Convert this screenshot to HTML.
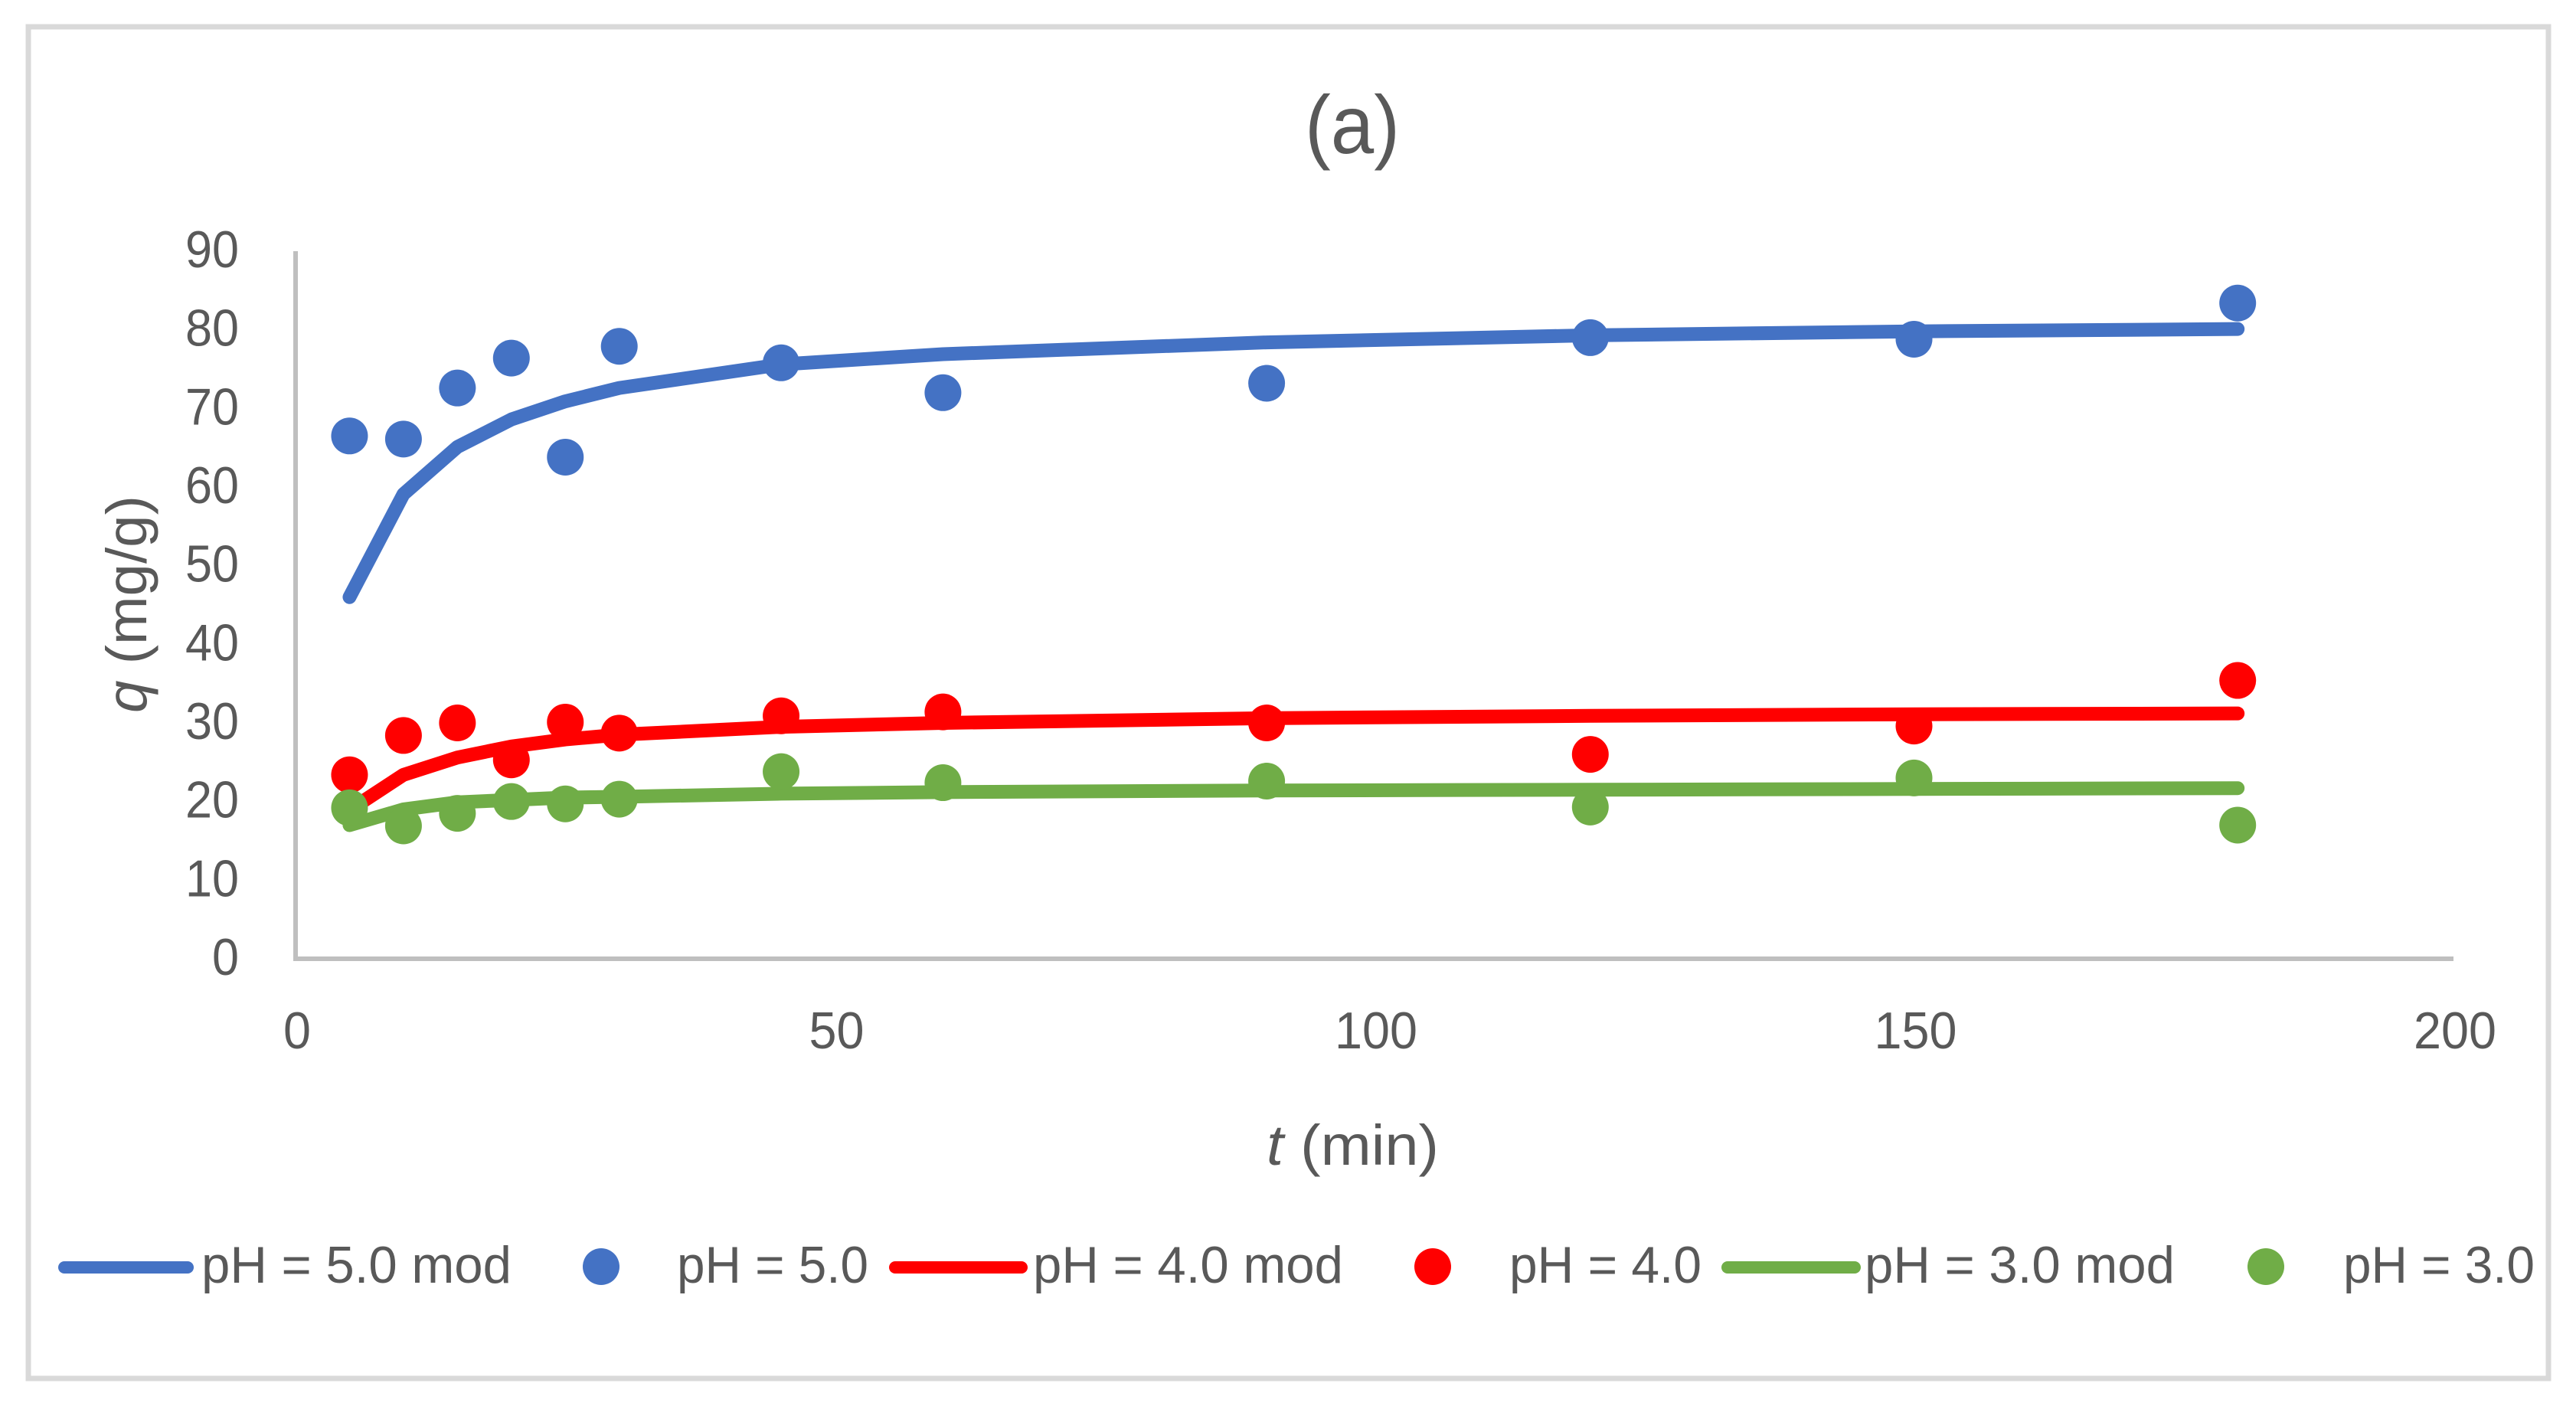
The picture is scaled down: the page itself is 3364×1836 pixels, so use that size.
<!DOCTYPE html>
<html lang="en">
<head>
<meta charset="utf-8">
<title>Adsorption kinetics (a)</title>
<style>
html,body{margin:0;padding:0;background:#fff;}
svg{display:block;}
text{font-family:"Liberation Sans",sans-serif;fill:#595959;}
</style>
</head>
<body>
<svg id="chart" xmlns="http://www.w3.org/2000/svg" width="3364" height="1836" viewBox="0 0 3364 1836">
  <rect x="0" y="0" width="3364" height="1836" fill="#fff"/>
  <rect x="37" y="35" width="3291" height="1765" fill="#fff" stroke="#d9d9d9" stroke-width="7"/>
  <text x="1766" y="200" text-anchor="middle" font-size="108" textLength="124" lengthAdjust="spacingAndGlyphs">(a)</text>
  <g id="axes"></g>
  <text x="1654" y="1521" font-size="74" textLength="225" lengthAdjust="spacingAndGlyphs"><tspan font-style="italic">t</tspan> (min)</text>
  <text transform="translate(191 931) rotate(-90)" x="0" y="0" font-size="74" textLength="284" lengthAdjust="spacingAndGlyphs"><tspan font-style="italic">q</tspan> (mg/g)</text>
  <g id="series"></g>
  <g id="legend">
    <line x1="84" y1="1655" x2="245" y2="1655" stroke="#4472c4" stroke-width="16" stroke-linecap="round"/>
    <text x="263" y="1675" font-size="68" textLength="405" lengthAdjust="spacingAndGlyphs">pH = 5.0 mod</text>
    <circle cx="785" cy="1654" r="24" fill="#4472c4"/>
    <text x="884" y="1675" font-size="68" textLength="250" lengthAdjust="spacingAndGlyphs">pH = 5.0</text>
    <line x1="1169" y1="1655" x2="1334" y2="1655" stroke="#ff0000" stroke-width="16" stroke-linecap="round"/>
    <text x="1349" y="1675" font-size="68" textLength="405" lengthAdjust="spacingAndGlyphs">pH = 4.0 mod</text>
    <circle cx="1871" cy="1654" r="24" fill="#ff0000"/>
    <text x="1971" y="1675" font-size="68" textLength="251" lengthAdjust="spacingAndGlyphs">pH = 4.0</text>
    <line x1="2256" y1="1655" x2="2422" y2="1655" stroke="#70ad47" stroke-width="16" stroke-linecap="round"/>
    <text x="2435" y="1675" font-size="68" textLength="405" lengthAdjust="spacingAndGlyphs">pH = 3.0 mod</text>
    <circle cx="2959" cy="1654" r="24" fill="#70ad47"/>
    <text x="3060" y="1675" font-size="68" textLength="250" lengthAdjust="spacingAndGlyphs">pH = 3.0</text>
  </g>
</svg>
<script>
var xTicks = [0, 50, 100, 150, 200];
var yTicks = [0, 10, 20, 30, 40, 50, 60, 70, 80, 90];
var times = [5, 10, 15, 20, 25, 30, 45, 60, 90, 120, 150, 180];
var ph5Model = [46.0, 59.1, 65.1, 68.6, 70.9, 72.6, 75.6, 76.9, 78.4, 79.3, 79.8, 80.1];
var ph5Measured = [66.5, 66.1, 72.6, 76.4, 63.8, 77.9, 75.8, 72.0, 73.2, 79.0, 78.8, 83.4];
var ph4Model = [18.9, 23.4, 25.6, 27.0, 27.9, 28.5, 29.5, 30.0, 30.6, 30.9, 31.1, 31.2];
var ph4Measured = [23.4, 28.4, 30.0, 25.3, 30.1, 28.7, 30.9, 31.4, 30.0, 26.0, 29.6, 35.4];
var ph3Model = [17.0, 19.0, 19.9, 20.2, 20.5, 20.6, 21.0, 21.2, 21.4, 21.5, 21.6, 21.7];
var ph3Measured = [19.2, 16.9, 18.5, 20.0, 19.7, 20.3, 23.8, 22.4, 22.6, 19.3, 23.0, 17.0];

var NS = 'http://www.w3.org/2000/svg';
var axes = document.getElementById('axes');
var seriesGroup = document.getElementById('series');

function xPos(v) { return 386 + (v / 200) * 2818; }
function yPos(v) { return 1252 - (v / 90) * 924; }

var yAxisLine = document.createElementNS(NS, 'line');


yAxisLine.setAttribute('x1', xPos(0));
yAxisLine.setAttribute('x2', xPos(0));
yAxisLine.setAttribute('y1', yPos(90));
yAxisLine.setAttribute('y2', yPos(0) + 3);
yAxisLine.setAttribute('stroke', '#bfbfbf');
yAxisLine.setAttribute('stroke-width', '6');
axes.appendChild(yAxisLine);

var xAxisLine = document.createElementNS(NS, 'line');


xAxisLine.setAttribute('x1', xPos(0) - 3);
xAxisLine.setAttribute('x2', xPos(200));
xAxisLine.setAttribute('y1', yPos(0));
xAxisLine.setAttribute('y2', yPos(0));
xAxisLine.setAttribute('stroke', '#bfbfbf');
xAxisLine.setAttribute('stroke-width', '6');
axes.appendChild(xAxisLine);

yTicks.forEach(function (t) {
  var label = document.createElementNS(NS, 'text');
  
  
  label.setAttribute('x', 312);
  label.setAttribute('y', yPos(t) + 21);
  label.setAttribute('text-anchor', 'end');
  label.setAttribute('font-size', '68');
  label.setAttribute('textLength', String(t).length * 35);
  label.setAttribute('lengthAdjust', 'spacingAndGlyphs');
  label.textContent = t;
  axes.appendChild(label);
});

xTicks.forEach(function (t) {
  var label = document.createElementNS(NS, 'text');
  
  
  label.setAttribute('x', xPos(t) + 2);
  label.setAttribute('y', 1369);
  label.setAttribute('text-anchor', 'middle');
  label.setAttribute('font-size', '68');
  label.setAttribute('textLength', String(t).length * 36);
  label.setAttribute('lengthAdjust', 'spacingAndGlyphs');
  label.textContent = t;
  axes.appendChild(label);
});

function drawModel(values, color, name) {
  var path = document.createElementNS(NS, 'polyline');
  
  
  path.setAttribute('points', values.map(function (v, i) {
    return xPos(times[i]) + ',' + yPos(v);
  }).join(' '));
  path.setAttribute('fill', 'none');
  path.setAttribute('stroke', color);
  path.setAttribute('stroke-width', '18');
  path.setAttribute('stroke-linecap', 'round');
  path.setAttribute('stroke-linejoin', 'round');
  seriesGroup.appendChild(path);
}

function drawMeasured(values, color, name) {
  values.forEach(function (v, i) {
    var dot = document.createElementNS(NS, 'circle');
    
    
    dot.setAttribute('cx', xPos(times[i]));
    dot.setAttribute('cy', yPos(v));
    dot.setAttribute('r', '24');
    dot.setAttribute('fill', color);
    seriesGroup.appendChild(dot);
  });
}

drawModel(ph5Model, '#4472c4', 'line-ph5-model');
drawMeasured(ph5Measured, '#4472c4', 'point-ph5-measured');
drawModel(ph4Model, '#ff0000', 'line-ph4-model');
drawMeasured(ph4Measured, '#ff0000', 'point-ph4-measured');
drawModel(ph3Model, '#70ad47', 'line-ph3-model');
drawMeasured(ph3Measured, '#70ad47', 'point-ph3-measured');
</script>
</body>
</html>
